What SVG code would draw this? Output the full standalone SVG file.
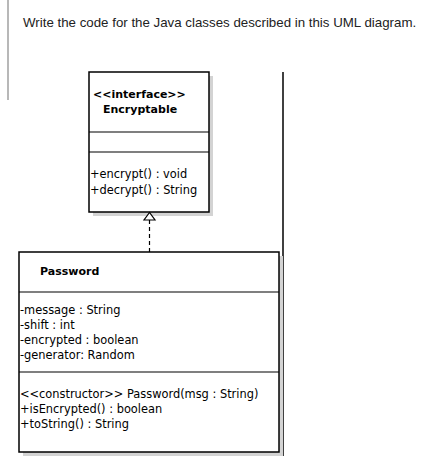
<svg xmlns="http://www.w3.org/2000/svg" width="444" height="475" viewBox="0 0 444 475">
<style>
.box{fill:#fff;stroke:#000;stroke-width:1.5}
.shadow{fill:#d3d3d3}
.div{stroke:#000;stroke-width:1.2}
.t{font-family:"DejaVu Sans",sans-serif;font-size:11.4px;fill:#000}
.b{font-weight:bold;font-size:11px}
.hdr{font-family:"Liberation Sans",Arial,sans-serif;font-size:13.3px;fill:#222}
</style>
<rect x="0" y="0" width="444" height="475" fill="#fff"/>
<line x1="8" y1="0" x2="8" y2="100" stroke="#a0a0a0" stroke-width="1.5"/>
<text class="hdr" x="23" y="27">Write the code for the Java classes described in this UML diagram.</text>
<line x1="283" y1="72" x2="283" y2="456" stroke="#000" stroke-width="1.5"/>
<g id="encryptable">
<rect class="shadow" x="93" y="76" width="120" height="140"/>
<rect class="box" x="89" y="72" width="120" height="140"/>
<line class="div" x1="89" y1="132" x2="209" y2="132"/>
<line class="div" x1="89" y1="152" x2="209" y2="152"/>
<text class="t b" x="93" y="98">&lt;&lt;interface&gt;&gt;</text>
<text class="t b" x="103" y="113">Encryptable</text>
<text class="t" x="90" y="178">+encrypt() : void</text>
<text class="t" x="90" y="194">+decrypt() : String</text>
</g>
<g id="password">
<rect class="shadow" x="23" y="256" width="260" height="200"/>
<rect class="box" x="19" y="252" width="260" height="200"/>
<line class="div" x1="19" y1="292" x2="279" y2="292"/>
<line class="div" x1="19" y1="372" x2="279" y2="372"/>
<text class="t b" x="40" y="275">Password</text>
<text class="t" x="20" y="314">-message : String</text>
<text class="t" x="20" y="329">-shift : int</text>
<text class="t" x="20" y="344">-encrypted : boolean</text>
<text class="t" x="20" y="359">-generator: Random</text>
<text class="t" x="20" y="398">&lt;&lt;constructor&gt;&gt; Password(msg : String)</text>
<text class="t" x="20" y="413">+isEncrypted() : boolean</text>
<text class="t" x="20" y="428">+toString() : String</text>
</g>
<g id="connectors">
<line x1="149.5" y1="220" x2="149.5" y2="252" stroke="#000" stroke-width="1.2" stroke-dasharray="4,3"/>
<polygon points="149.5,212.5 144,220 155,220" fill="#fff" stroke="#000" stroke-width="1.2"/>
</g>
</svg>
